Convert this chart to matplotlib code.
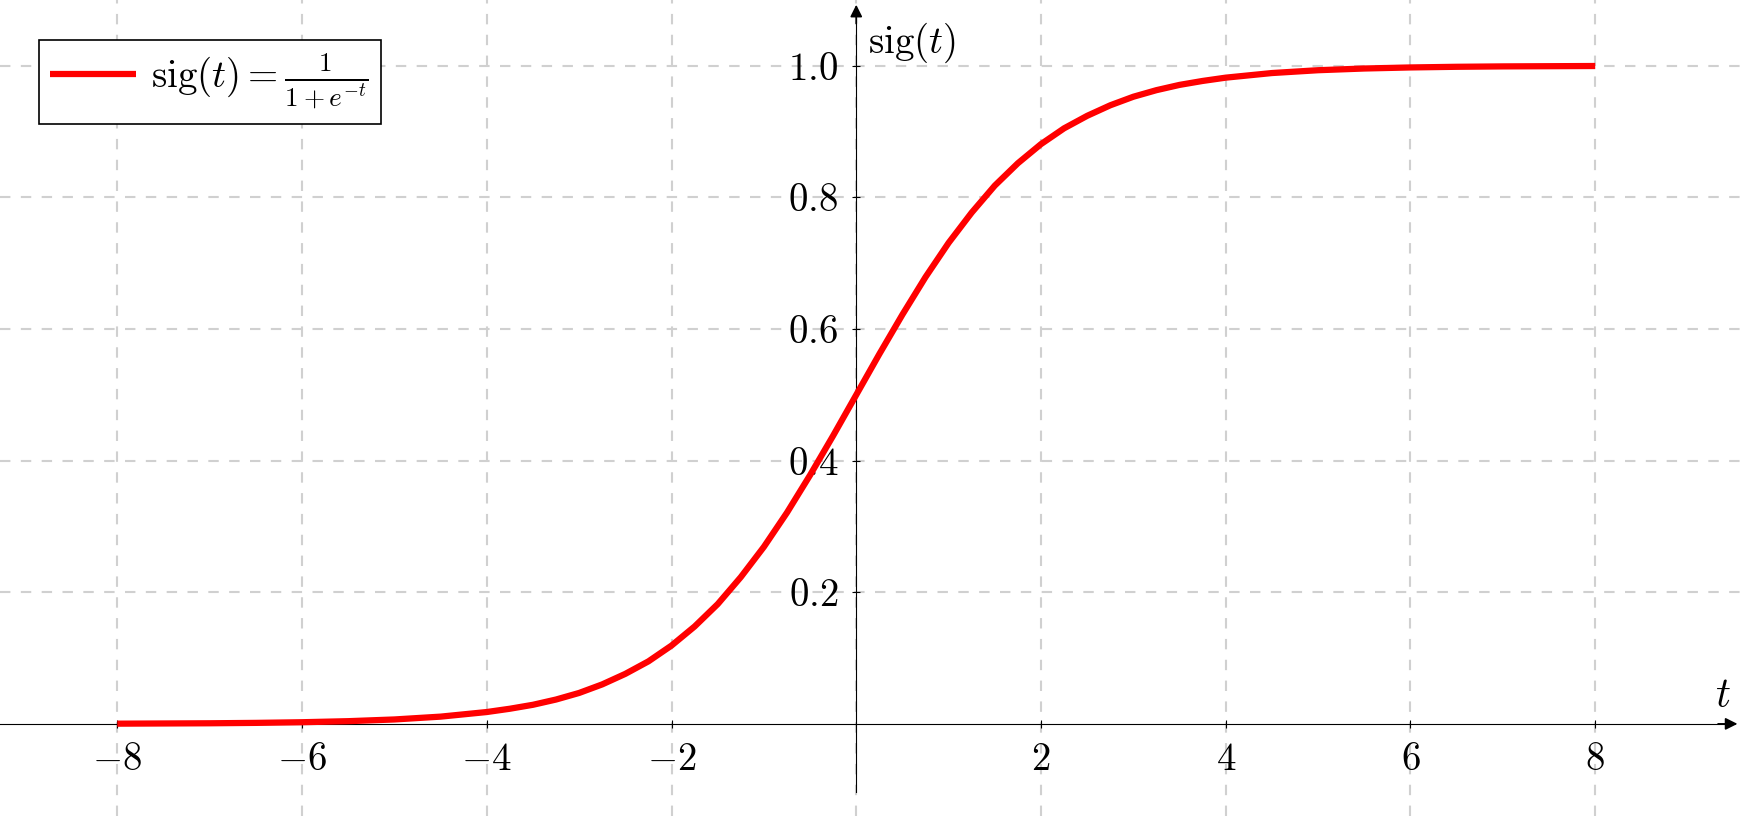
import numpy as np
import matplotlib.pyplot as plt

plt.rcParams['mathtext.fontset'] = 'cm'
plt.rcParams['font.family'] = 'serif'
plt.rcParams['font.serif'] = ['cmr10', 'DejaVu Serif']
plt.rcParams['axes.formatter.use_mathtext'] = True

# valores
t = [-8, -7.5, -7, -6.5, -6, -5.5, -5, -4.5, -4, -3.75, -3.5, -3.25, -3, -2.75, -2.5,
     -2.25, -2, -1.75, -1.5, -1.25, -1, -0.75, -0.5, -0.25, 0, 0.25, 0.5, 0.75, 1,
     1.25, 1.5, 1.75, 2, 2.25, 2.5, 2.75, 3, 3.25, 3.5, 3.75, 4, 4.5, 5, 5.5, 6,
     6.5, 7, 7.5, 8]
sig = [0.0003, 0.0006, 0.0009, 0.0015, 0.0025, 0.0041, 0.0067, 0.011, 0.018, 0.023,
       0.029, 0.037, 0.047, 0.060, 0.076, 0.095, 0.119, 0.148, 0.182, 0.223, 0.269,
       0.321, 0.378, 0.438, 0.5, 0.562, 0.622, 0.679, 0.731, 0.777, 0.818, 0.852,
       0.881, 0.905, 0.924, 0.940, 0.953, 0.963, 0.971, 0.977, 0.982, 0.989, 0.9933,
       0.9959, 0.9975, 0.9985, 0.9991, 0.9994, 0.9997]
xticks = [-8, -6, -4, -2, 2, 4, 6, 8]
yticks = [0.2, 0.4, 0.6, 0.8, 1.0]

fig = plt.figure(figsize=(17.43, 8.16), dpi=100)
ax = fig.add_axes([0, 0, 1, 1])
ax.set_xlim(-9.27, 9.6)
ax.set_ylim(-0.14, 1.10)

# rejilla
for x in [-8, -6, -4, -2, 0, 2, 4, 6, 8]:
    ax.axvline(x, color='#d0d0d0', ls=(0, (5, 5)), lw=1.5, zorder=0)
for y in yticks:
    ax.axhline(y, color='#d0d0d0', ls=(0, (5, 5)), lw=1.5, zorder=0)

ax.plot(t, sig, color='red', lw=4.5, solid_capstyle='butt', solid_joinstyle='round',
        label=r'$\mathrm{sig}(t) = \frac{1}{1+e^{-t}}$', zorder=3)

for s in ['top', 'right']:
    ax.spines[s].set_visible(False)
ax.spines['left'].set_position(('data', 0))
ax.spines['bottom'].set_position(('data', 0))
ax.spines['left'].set_bounds(-0.104, 1.08)
ax.spines['bottom'].set_bounds(-9.27, 9.4)
ax.annotate('', xy=(9.57, 0), xytext=(9.3, 0), annotation_clip=False,
            arrowprops=dict(arrowstyle='-|>', color='black', lw=1.2, mutation_scale=18))
ax.annotate('', xy=(0, 1.097), xytext=(0, 1.06), annotation_clip=False,
            arrowprops=dict(arrowstyle='-|>', color='black', lw=1.2, mutation_scale=18))

ax.set_xticks(xticks, [f'${v}$' if v > 0 else f'$-{-v}$' for v in xticks])
ax.set_yticks(yticks, [f'${v:.1f}$' for v in yticks])
ax.tick_params(direction='inout', length=6, labelsize=28, pad=10)

ax.text(9.3, 0.025, r'$t$', fontsize=30)
ax.text(0.13, 1.02, r'$\mathrm{sig}(t)$', fontsize=28)

leg = ax.legend(loc='upper left', bbox_to_anchor=(0.011, 0.975), fontsize=28,
                fancybox=False, framealpha=1, edgecolor='black', handlelength=2.2,
                handletextpad=0.4, borderpad=0.3)
leg.get_frame().set_linewidth(1.2)

fig.savefig('out.png', dpi=100)
